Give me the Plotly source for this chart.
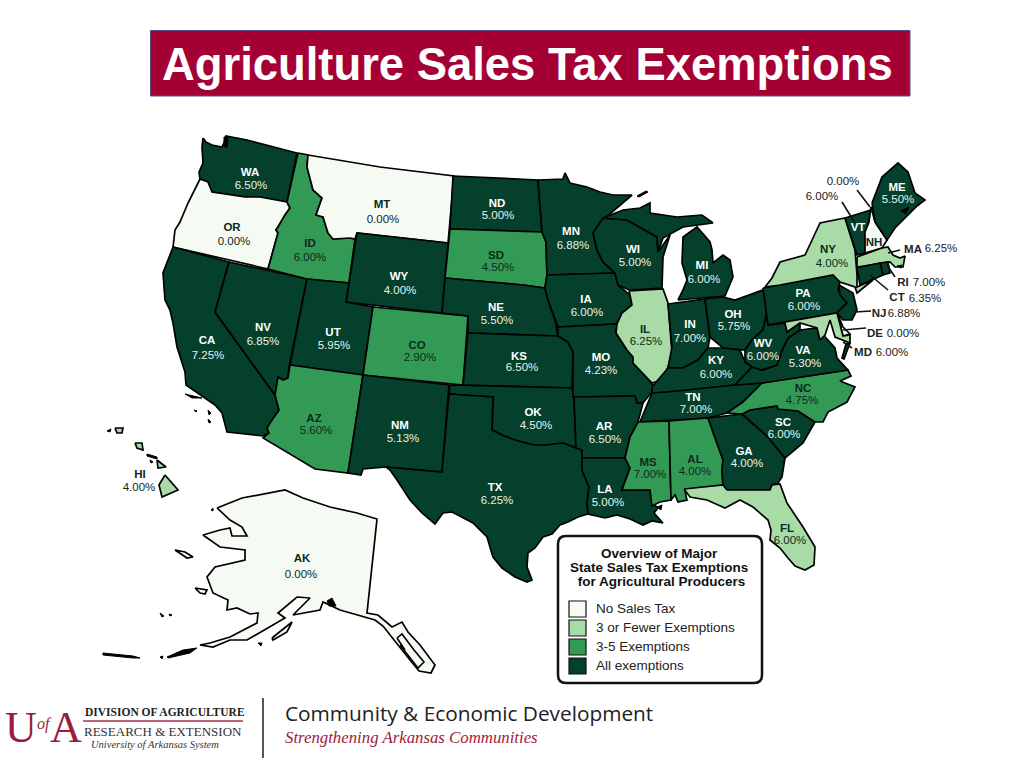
import plotly.graph_objects as go

# topojson for geo subplots can't load offline, so the state outlines are traced by hand
title = 'Agriculture Sales Tax Exemptions'

states = ['WA', 'OR', 'CA', 'NV', 'ID', 'MT', 'WY', 'UT', 'AZ', 'CO', 'NM', 'ND', 'SD', 'NE', 'KS', 'OK', 'TX',
          'MN', 'IA', 'MO', 'AR', 'LA', 'WI', 'IL', 'IN', 'MI', 'OH', 'KY', 'TN', 'MS', 'AL', 'GA', 'FL', 'SC',
          'NC', 'VA', 'WV', 'PA', 'NY', 'VT', 'NH', 'ME', 'MA', 'RI', 'CT', 'NJ', 'DE', 'MD', 'HI', 'AK']
rates = ['6.50%', '0.00%', '7.25%', '6.85%', '6.00%', '0.00%', '4.00%', '5.95%', '5.60%', '2.90%', '5.13%', '5.00%',
         '4.50%', '5.50%', '6.50%', '4.50%', '6.25%', '6.88%', '6.00%', '4.23%', '6.50%', '5.00%', '5.00%', '6.25%',
         '7.00%', '6.00%', '5.75%', '6.00%', '7.00%', '7.00%', '4.00%', '4.00%', '6.00%', '6.00%', '4.75%', '5.30%',
         '6.00%', '6.00%', '4.00%', '6.00%', '0.00%', '5.50%', '6.25%', '7.00%', '6.35%', '6.88%', '0.00%', '6.00%',
         '4.00%', '0.00%']
# 0 no sales tax, 1 three or fewer, 2 three to five, 3 all exemptions
groups = [3, 0, 3, 3, 2, 0, 3, 3, 2, 2, 3, 3, 2, 3, 3, 3, 3, 3, 3, 3, 3, 3, 3, 1, 3, 3, 3, 3, 3, 2, 2, 3, 1, 3, 2,
          3, 3, 3, 1, 3, 0, 3, 1, 3, 3, 3, 0, 1, 1, 0]

legend_title = ['Overview of Major', 'State Sales Tax Exemptions', ' for Agricultural Producers']
legend_labels = ['No Sales Tax', '3 or Fewer Exemptions', '3-5 Exemptions', 'All exemptions']
group_colors = ['#f5faf3', '#a8dba6', '#339a56', '#05402d']

outlines = {
    'WA': [[(203, 138), (206, 142), (212, 145), (222, 147), (224, 143), (226, 136), (247, 140), (297, 153), (287, 202),
            (260, 197), (245, 197), (230, 195), (212, 192), (208, 182), (200, 179), (199, 172), (203, 163), (202, 147)]],
    'OR': [[(200, 179), (208, 182), (212, 192), (230, 195), (245, 197), (260, 197), (287, 202), (290, 208), (285, 215),
            (278, 227), (276, 230), (278, 233), (268, 269), (173, 247), (175, 230), (180, 222), (188, 203)]],
    'CA': [[(173, 247), (229, 262), (215, 312), (275, 395), (279, 410), (270, 423), (267, 428), (269, 433), (263, 436),
            (227, 432), (222, 413), (215, 405), (200, 395), (186, 385), (185, 372), (177, 347), (173, 323), (170, 310),
            (165, 300), (163, 273)]],
    'NV': [[(229, 262), (307, 279), (289, 367), (288, 378), (283, 380), (278, 377), (275, 395), (215, 312)]],
    'ID': [[(298, 153), (308, 155), (307, 167), (313, 190), (322, 198), (316, 215), (323, 217), (328, 233), (333, 239),
            (350, 238), (355, 239), (349, 283), (307, 279), (268, 269), (278, 233), (276, 230), (278, 227), (285, 215),
            (290, 208), (287, 202)]],
    'MT': [[(308, 155), (380, 167), (454, 176), (448, 243), (357, 233), (355, 239), (350, 238), (333, 239), (328, 233),
            (323, 217), (316, 215), (322, 198), (313, 190), (307, 167)]],
    'WY': [[(357, 233), (448, 243), (442, 313), (346, 302)]],
    'UT': [[(307, 279), (349, 283), (346, 302), (373, 307), (363, 375), (290, 365)]],
    'AZ': [[(290, 365), (363, 375), (348, 473), (315, 469), (263, 438), (269, 433), (267, 428), (270, 423), (279, 410),
            (275, 395), (278, 377), (283, 380), (288, 378)]],
    'CO': [[(373, 307), (468, 316), (463, 385), (363, 375)]],
    'NM': [[(363, 375), (449, 385), (442, 472), (386, 467), (363, 469), (361, 475), (348, 473)]],
    'ND': [[(453, 176), (538, 180), (542, 232), (450, 229)]],
    'SD': [[(450, 229), (542, 232), (546, 242), (547, 275), (545, 288), (523, 285), (445, 278)]],
    'NE': [[(445, 278), (523, 285), (545, 288), (548, 300), (555, 320), (558, 336), (468, 333), (468, 316), (442, 313)]],
    'KS': [[(468, 333), (558, 336), (568, 342), (573, 352), (572, 388), (463, 385)]],
    'OK': [[(450, 385), (572, 388), (574, 398), (576, 448), (563, 443), (547, 445), (533, 445), (515, 440), (502, 435),
            (492, 430), (493, 397), (449, 394)]],
    'TX': [[(449, 394), (493, 397), (492, 430), (502, 435), (515, 440), (533, 445), (547, 445), (563, 443), (576, 448),
            (582, 450), (582, 470), (589, 487), (587, 503), (588, 514), (578, 517), (568, 522), (560, 525), (552, 534),
            (543, 537), (535, 548), (528, 553), (527, 567), (532, 580), (527, 582), (515, 577), (502, 568), (493, 557),
            (487, 537), (473, 523), (452, 512), (443, 513), (435, 524), (422, 513), (410, 500), (397, 480), (390, 470),
            (386, 467), (442, 472)]],
    'MN': [[(538, 180), (563, 179), (565, 173), (570, 183), (587, 187), (600, 192), (613, 195), (632, 195), (618, 207),
            (605, 218), (593, 233), (597, 250), (603, 262), (615, 273), (547, 275), (546, 242), (542, 232)]],
    'IA': [[(547, 275), (615, 273), (618, 285), (630, 295), (632, 305), (622, 313), (617, 324), (558, 327), (548, 300),
            (545, 288)]],
    'MO': [[(558, 327), (617, 324), (616, 333), (627, 350), (633, 357), (633, 363), (647, 378), (653, 385), (652, 392),
            (643, 403), (637, 403), (635, 396), (573, 397), (573, 352), (568, 342), (558, 336)]],
    'AR': [[(573, 397), (635, 396), (637, 403), (643, 403), (638, 422), (630, 437), (625, 458), (582, 458), (582, 450),
            (576, 448), (574, 398)]],
    'LA': [[(582, 458), (625, 458), (630, 468), (622, 490), (650, 490), (652, 503), (658, 508), (654, 513), (663, 523),
            (652, 521), (643, 525), (630, 519), (617, 515), (605, 518), (588, 514), (587, 503), (589, 487), (582, 470)]],
    'WI': [[(603, 218), (627, 220), (657, 237), (658, 252), (670, 235), (663, 257), (662, 288), (629, 290), (618, 285),
            (615, 273), (603, 262), (597, 250), (593, 233)]],
    'IL': [[(629, 291), (663, 289), (668, 303), (672, 353), (668, 367), (662, 380), (652, 383), (633, 363), (633, 357),
            (627, 350), (616, 333), (617, 324), (622, 313), (632, 305), (630, 295)]],
    'IN': [[(668, 304), (705, 299), (710, 337), (708, 348), (698, 360), (683, 368), (668, 368), (672, 347)]],
    'MI': [[(678, 300), (705, 298), (725, 296), (733, 277), (730, 260), (723, 255), (713, 263), (712, 250), (710, 242),
            (697, 227), (683, 237), (682, 263), (687, 280), (683, 290)],
           [(603, 218), (623, 210), (640, 208), (650, 203), (650, 213), (677, 217), (702, 215), (713, 223), (683, 227),
            (672, 233), (663, 238), (658, 252), (657, 237), (627, 220)]],
    'OH': [[(705, 299), (723, 297), (735, 300), (763, 290), (767, 312), (763, 330), (752, 340), (745, 350), (723, 348),
            (710, 337)]],
    'KY': [[(652, 387), (668, 368), (683, 368), (698, 360), (708, 348), (723, 348), (740, 350), (745, 362), (752, 367),
            (735, 385), (668, 392), (652, 393)]],
    'TN': [[(652, 393), (668, 392), (735, 385), (762, 383), (743, 402), (727, 413), (708, 418), (640, 422), (647, 405)]],
    'MS': [[(638, 422), (669, 421), (671, 500), (660, 502), (652, 506), (650, 490), (622, 490), (630, 468), (625, 458),
            (630, 437)]],
    'AL': [[(669, 421), (708, 418), (723, 460), (722, 470), (723, 486), (685, 491), (687, 500), (678, 502), (675, 495),
            (671, 500)]],
    'GA': [[(708, 418), (742, 414), (768, 437), (785, 458), (782, 477), (778, 483), (772, 485), (770, 490), (727, 490),
            (723, 486), (722, 470), (723, 460)]],
    'FL': [[(684, 489), (723, 485), (727, 490), (770, 490), (772, 485), (780, 484), (787, 503), (803, 527), (815, 547),
            (814, 565), (805, 570), (795, 566), (788, 558), (780, 548), (770, 540), (771, 530), (768, 520), (753, 507),
            (740, 500), (725, 508), (707, 500), (690, 497)]],
    'SC': [[(742, 414), (750, 410), (777, 406), (778, 409), (798, 411), (815, 422), (803, 443), (785, 458), (768, 437)]],
    'NC': [[(727, 413), (743, 402), (762, 383), (848, 370), (851, 376), (840, 381), (855, 387), (847, 402), (828, 412),
            (823, 422), (815, 422), (798, 411), (778, 409), (777, 406), (750, 410), (742, 414)]],
    'VA': [[(735, 385), (752, 367), (762, 370), (777, 365), (783, 348), (788, 338), (800, 330), (817, 328), (835, 348),
            (837, 358), (848, 370), (762, 383)],
           [(846, 344), (850, 343), (844, 359), (842, 358)]],
    'WV': [[(745, 362), (745, 350), (752, 340), (763, 330), (767, 312), (768, 325), (785, 323), (787, 332), (800, 323),
            (800, 330), (788, 338), (783, 348), (777, 365), (762, 370), (752, 367)]],
    'PA': [[(763, 288), (780, 285), (833, 275), (840, 282), (838, 290), (847, 303), (837, 313), (768, 325)]],
    'NY': [[(765, 287), (772, 278), (780, 262), (805, 255), (813, 238), (820, 223), (845, 218), (855, 250), (857, 275),
            (857, 287), (873, 280), (857, 293), (855, 287), (840, 282), (833, 275), (780, 285)]],
    'VT': [[(845, 218), (871, 210), (869, 222), (865, 232), (865, 253), (857, 255)]],
    'NH': [[(871, 207), (875, 222), (887, 240), (882, 248), (865, 253), (865, 232), (869, 222)]],
    'ME': [[(872, 203), (882, 177), (898, 163), (908, 172), (915, 193), (925, 200), (917, 206), (910, 213), (903, 219),
            (895, 228), (887, 240), (875, 222)]],
    'MA': [[(857, 257), (882, 248), (888, 247), (893, 255), (900, 258), (905, 256), (903, 267), (895, 267), (890, 262),
            (857, 267)]],
    'RI': [[(880, 263), (888, 262), (890, 273), (883, 275)]],
    'CT': [[(857, 268), (880, 263), (883, 275), (860, 285)]],
    'NJ': [[(839, 285), (853, 293), (857, 310), (852, 320), (843, 320), (837, 313), (847, 303), (840, 295)]],
    'DE': [[(837, 312), (843, 327), (850, 334), (843, 336)]],
    'MD': [[(768, 325), (837, 313), (843, 336), (850, 335), (850, 343), (835, 337), (830, 320), (825, 335), (820, 340),
            (817, 328), (800, 323), (787, 332), (785, 323)]],
    'HI': [[(165, 475), (178, 490), (162, 497), (159, 485)], [(157, 460), (166, 467), (158, 468)],
           [(135, 443), (142, 443), (143, 450), (137, 448)], [(115, 428), (123, 428), (122, 433), (117, 433)]],
    'AK': [[(217, 508), (242, 498), (285, 490), (303, 498), (330, 507), (357, 513), (377, 519), (367, 613), (378, 615),
            (392, 627), (402, 622), (408, 632), (420, 645), (435, 665), (431, 673), (419, 671), (410, 660), (398, 645),
            (383, 626), (375, 620), (340, 610), (323, 602), (320, 610), (293, 615), (310, 598), (297, 597), (278, 613),
            (285, 618), (270, 627), (247, 640), (230, 640), (213, 647), (200, 645), (210, 643), (230, 637), (257, 623),
            (258, 613), (250, 614), (237, 608), (227, 610), (228, 600), (213, 593), (207, 577), (215, 567), (245, 560),
            (245, 550), (220, 547), (203, 535), (220, 530), (230, 528), (232, 536), (247, 536), (242, 527), (230, 520)],
           [(175, 550), (185, 552), (193, 557), (187, 558)], [(195, 588), (207, 590), (205, 594), (200, 593)],
           [(272, 638), (292, 622), (287, 632), (273, 640)]],
}

# small islands and inlets, too small to show any fill in the reference
specks = [
    [(224, 137), (228, 137), (227, 148), (224, 146)], [(185, 394), (193, 396), (202, 398), (192, 398)],
    [(194, 410), (197, 411), (196, 412)], [(208, 410), (211, 413), (209, 415)], [(208, 419), (211, 422), (209, 423)],
    [(147, 454), (157, 457), (157, 459), (147, 456)], [(150, 460), (153, 462), (151, 463)],
    [(107, 431), (111, 429), (110, 432)], [(637, 196), (646, 191), (648, 192), (639, 197)],
    [(103, 653), (133, 656), (140, 658), (133, 658), (103, 655)], [(167, 657), (183, 650), (197, 648), (190, 653), (168, 658)],
    [(160, 657), (163, 656), (162, 659)], [(258, 643), (262, 643), (261, 646)], [(160, 613), (164, 616), (162, 617)],
    [(169, 614), (172, 615), (170, 616)], [(657, 507), (662, 505), (661, 510)], [(897, 266), (902, 265), (901, 268)],
    [(901, 211), (909, 207), (906, 214)], [(211, 510), (213, 508), (213, 511)], [(327, 601), (332, 598), (336, 606), (329, 606)],
]
# scribbled coastline of southeast Alaska
scribbles = [
    [(397, 638), (405, 650), (400, 645), (412, 660), (405, 652), (418, 668), (424, 662), (414, 650), (402, 634), (397, 638)],
]

# label spots: state code, then rate
abbr_pos = {
    'WA': (250, 173), 'OR': (232, 228), 'CA': (207, 341), 'NV': (263, 328), 'ID': (310, 244), 'MT': (382, 205),
    'WY': (399, 277), 'UT': (333, 333), 'AZ': (314, 419), 'CO': (417, 346), 'NM': (400, 426), 'ND': (497, 204),
    'SD': (496, 256), 'NE': (496, 308), 'KS': (519, 357), 'OK': (533, 413), 'TX': (495, 488), 'MN': (571, 232),
    'IA': (586, 300), 'MO': (601, 358), 'AR': (604, 427), 'LA': (605, 490), 'WI': (633, 250), 'IL': (645, 330),
    'IN': (690, 325), 'MI': (702, 266), 'OH': (733, 315), 'KY': (716, 361), 'TN': (693, 398), 'MS': (648, 463),
    'AL': (695, 460), 'GA': (744, 452), 'FL': (787, 529), 'SC': (783, 423), 'NC': (803, 389), 'VA': (803, 351),
    'WV': (763, 344), 'PA': (803, 294), 'NY': (828, 250), 'VT': (858, 228), 'NH': (874, 243), 'ME': (897, 188),
    'MA': (913, 250), 'RI': (903, 283), 'CT': (897, 298), 'NJ': (879, 314), 'DE': (875, 334), 'MD': (863, 353),
    'HI': (140, 475), 'AK': (302, 559),
}
rate_pos = {
    'WA': (251, 186), 'OR': (234, 242), 'CA': (208, 356), 'NV': (263, 342), 'ID': (310, 258), 'MT': (383, 220),
    'WY': (400, 291), 'UT': (334, 346), 'AZ': (316, 431), 'CO': (420, 358), 'NM': (403, 439), 'ND': (498, 216),
    'SD': (498, 268), 'NE': (497, 321), 'KS': (522, 368), 'OK': (536, 426), 'TX': (497, 501), 'MN': (573, 246),
    'IA': (587, 313), 'MO': (601, 371), 'AR': (605, 440), 'LA': (608, 503), 'WI': (635, 263), 'IL': (646, 342),
    'IN': (690, 339), 'MI': (704, 280), 'OH': (734, 327), 'KY': (716, 375), 'TN': (696, 410), 'MS': (650, 475),
    'AL': (695, 472), 'GA': (747, 464), 'FL': (790, 541), 'SC': (784, 435), 'NC': (802, 401), 'VA': (805, 364),
    'WV': (763, 357), 'PA': (804, 307), 'NY': (832, 264), 'VT': (822, 197), 'NH': (843, 182), 'ME': (898, 200),
    'MA': (941, 249), 'RI': (929, 283), 'CT': (925, 299), 'NJ': (904, 314), 'DE': (903, 334), 'MD': (892, 353),
    'HI': (139, 488), 'AK': (301, 575),
}
# states labelled outside the map, no colour rule for these
outside_abbr = ['MA', 'RI', 'CT', 'NJ', 'DE', 'MD']
outside_rate = ['VT', 'NH', 'MA', 'RI', 'CT', 'NJ', 'DE', 'MD']
leaders = [((842, 202), (855, 223)), ((857, 190), (870, 207)), ((888, 253), (900, 250)), ((887, 265), (895, 277)),
           ((870, 275), (888, 290)), ((855, 312), (871, 311)), ((843, 330), (866, 328)), ((843, 342), (852, 348))]


def flatten(polys):
    xs, ys = [], []
    for poly in polys:
        xs += [p[0] for p in poly] + [poly[0][0], None]
        ys += [p[1] for p in poly] + [poly[0][1], None]
    return xs, ys


fig = go.Figure()

for st, grp in zip(states, groups):
    xs, ys = flatten(outlines[st])
    fig.add_trace(go.Scatter(x=xs, y=ys, mode='lines', fill='toself', fillcolor=group_colors[grp],
                             line=dict(color='black', width=1.7), hoverinfo='text', text=st))

xs, ys = flatten(specks)
fig.add_trace(go.Scatter(x=xs, y=ys, mode='lines', fill='toself', fillcolor='black',
                         line=dict(color='black', width=1), hoverinfo='skip'))
xs, ys = flatten(scribbles)
fig.add_trace(go.Scatter(x=xs, y=ys, mode='lines', line=dict(color='black', width=1.6), hoverinfo='skip'))

for a, b in leaders:
    fig.add_trace(go.Scatter(x=[a[0], b[0]], y=[a[1], b[1]], mode='lines', line=dict(color='#111111', width=1.6),
                             hoverinfo='skip'))


def label_color(st, grp, outside):
    if st in outside:
        return '#222222'
    return '#ffffff' if grp == 3 else '#0b2a1c'


fig.add_trace(go.Scatter(
    x=[abbr_pos[s][0] for s in states], y=[abbr_pos[s][1] for s in states],
    mode='text', text=['<b>' + s + '</b>' for s in states], hoverinfo='skip',
    textfont=dict(family='Liberation Sans', size=11.5,
                  color=[label_color(s, g, outside_abbr) for s, g in zip(states, groups)])))
fig.add_trace(go.Scatter(
    x=[rate_pos[s][0] for s in states], y=[rate_pos[s][1] for s in states],
    mode='text', text=rates, hoverinfo='skip',
    textfont=dict(family='Liberation Sans', size=11.5,
                  color=[label_color(s, g, outside_rate).replace('#ffffff', '#e8f1ec')
                         for s, g in zip(states, groups)])))

shapes = [
    dict(type='rect', x0=150.5, y0=30.5, x1=910, y1=96, fillcolor='#a50034', line=dict(color='#5b4a8c', width=1)),
    # legend box, rounded
    dict(type='path', path='M 566 536 L 754 536 Q 762 536 762 544 L 762 675 Q 762 683 754 683 L 566 683 '
                           'Q 558 683 558 675 L 558 544 Q 558 536 566 536 Z',
         fillcolor='white', line=dict(color='#111111', width=2.5)),
    dict(type='line', x0=263, y0=698, x1=263, y1=758, line=dict(color='#222222', width=1.5)),
    dict(type='line', x0=83, y0=721, x1=243, y1=721, line=dict(color='#a8324e', width=1.5)),
]
annotations = [dict(x=527, y=64, text='<b>' + title + '</b>', font=dict(family='Liberation Sans', size=45.4, color='white'))]

for i, line in enumerate(legend_title):
    annotations.append(dict(x=659, y=553 + i * 14.3, text='<b>' + line + '</b>',
                            font=dict(family='Liberation Sans', size=13.5, color='#111111')))
for i, lab in enumerate(legend_labels):
    top = 601 + i * 19
    shapes.append(dict(type='rect', x0=569, y0=top, x1=586, y1=top + 16, fillcolor=group_colors[i],
                       line=dict(color='#111111', width=1.2)))
    annotations.append(dict(x=594, y=top + 7, text=lab, xanchor='left',
                            font=dict(family='Liberation Sans', size=13.5, color='#222222')))

# footer logo text
crimson = '#9d1c3c'
annotations += [
    dict(x=21, y=727, text='U', font=dict(family='Liberation Serif', size=44, color=crimson)),
    dict(x=44, y=724, text='<i>of</i>', font=dict(family='Liberation Serif', size=16, color=crimson)),
    dict(x=66, y=727, text='A', font=dict(family='Liberation Serif', size=44, color=crimson)),
    dict(x=83, y=712, text='<b>DIVISION OF AGRICULTURE</b>', xanchor='left',
         font=dict(family='Liberation Serif', size=11.5, color='#222222')),
    dict(x=163, y=731, text='RESEARCH &amp; EXTENSION', font=dict(family='Liberation Serif', size=13, color='#333333')),
    dict(x=155, y=744, text='<i>University of Arkansas System</i>',
         font=dict(family='Liberation Serif', size=10.5, color='#333333')),
    dict(x=283, y=713, text='Community &amp; Economic Development', xanchor='left',
         font=dict(family='Open Sans', size=20.8, color='#222222')),
    dict(x=283, y=737, text='<i>Strengthening Arkansas Communities</i>', xanchor='left',
         font=dict(family='Liberation Serif', size=16.8, color=crimson)),
]
for a in annotations:
    a.update(xref='x', yref='y', showarrow=False)

fig.update_layout(
    width=1024,
    height=768,
    margin=dict(l=0, r=0, t=0, b=0),
    paper_bgcolor='white',
    plot_bgcolor='white',
    showlegend=False,
    shapes=shapes,
    annotations=annotations,
    xaxis=dict(range=[0, 1024], visible=False, fixedrange=True),
    yaxis=dict(range=[768, 0], visible=False, fixedrange=True),
)
# default page has an 8px body margin, drop it so the figure sits at the window corner
fig.write_html('out.html', config={'displayModeBar': False}, post_script="document.body.style.margin = '0';")
